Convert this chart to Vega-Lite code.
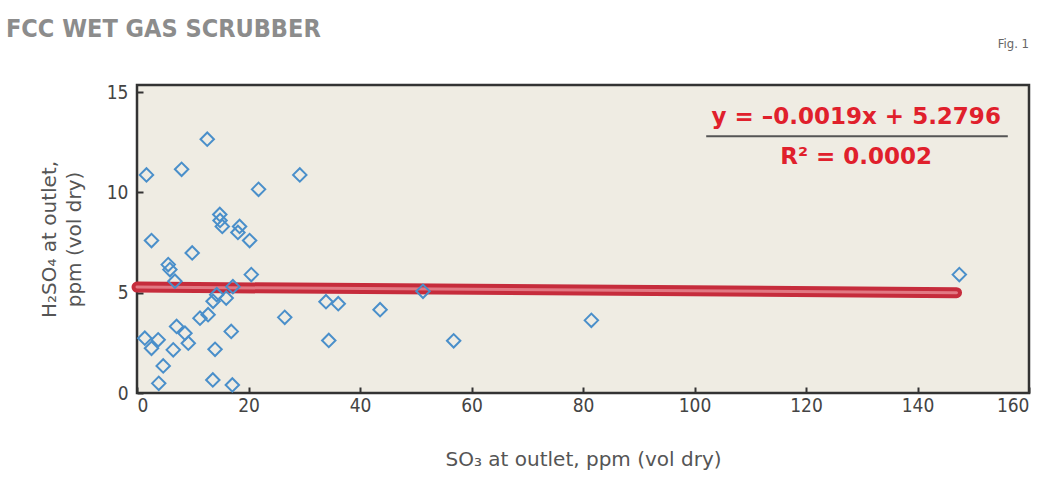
{
  "$schema": "https://vega.github.io/schema/vega-lite/v6.json",
  "width": 892,
  "height": 308,
  "autosize": {"type": "none"},
  "padding": {"left": 137, "top": 85, "right": 21, "bottom": 85},
  "background": "white",
  "title": {
    "text": "FCC WET GAS SCRUBBER",
    "anchor": "start",
    "frame": "group",
    "dx": -131,
    "dy": 6,
    "offset": 2,
    "font": "DejaVu Sans Condensed, Roboto",
    "fontSize": 25,
    "fontWeight": "bold",
    "color": "#8c8c8c"
  },
  "encoding": {
    "x": {
      "field": "so3",
      "type": "quantitative",
      "scale": {"domain": [0, 160], "nice": false},
      "axis": {
        "title": "SO₃ at outlet, ppm (vol dry)",
        "values": [0, 20, 40, 60, 80, 100, 120, 140, 160],
        "labelPadding": 9,
        "titlePadding": 34
      }
    },
    "y": {
      "field": "h2so4",
      "type": "quantitative",
      "scale": {"domain": [0, 15.35], "nice": false},
      "axis": {
        "title": ["H₂SO₄ at outlet,", "ppm (vol dry)"],
        "values": [0, 5, 10, 15],
        "labelPadding": 15,
        "titlePadding": 22,
        "titleLineHeight": 25
      }
    }
  },
  "layer": [
    {
      "data": {"values": [{"so3": 0, "h2so4": 5.2796}, {"so3": 147, "h2so4": 4.9999}]},
      "mark": {"type": "line", "strokeWidth": 11, "color": "#c62c3c", "strokeCap": "round"}
    },
    {
      "data": {"values": [{"so3": 0, "h2so4": 5.2796}, {"so3": 147, "h2so4": 4.9999}]},
      "mark": {"type": "line", "strokeWidth": 3, "color": "#e27883", "strokeCap": "round"}
    },
    {
      "data": {
        "values": [
          {"so3": 12.6, "h2so4": 12.65},
          {"so3": 1.7, "h2so4": 10.87},
          {"so3": 8.0, "h2so4": 11.15},
          {"so3": 29.2, "h2so4": 10.87},
          {"so3": 21.8, "h2so4": 10.15},
          {"so3": 2.6, "h2so4": 7.6},
          {"so3": 9.9, "h2so4": 6.98},
          {"so3": 14.85, "h2so4": 8.9},
          {"so3": 14.9, "h2so4": 8.6},
          {"so3": 15.3, "h2so4": 8.3},
          {"so3": 18.4, "h2so4": 8.3},
          {"so3": 18.1, "h2so4": 8.0},
          {"so3": 20.2, "h2so4": 7.6},
          {"so3": 5.6, "h2so4": 6.4},
          {"so3": 5.9, "h2so4": 6.15},
          {"so3": 6.8, "h2so4": 5.57},
          {"so3": 20.5, "h2so4": 5.9},
          {"so3": 17.2, "h2so4": 5.3},
          {"so3": 14.3, "h2so4": 4.9},
          {"so3": 13.65, "h2so4": 4.57},
          {"so3": 16.0, "h2so4": 4.73},
          {"so3": 11.3, "h2so4": 3.73},
          {"so3": 12.75, "h2so4": 3.9},
          {"so3": 7.1, "h2so4": 3.32},
          {"so3": 8.6, "h2so4": 2.98},
          {"so3": 9.2, "h2so4": 2.48},
          {"so3": 1.4, "h2so4": 2.73},
          {"so3": 3.8, "h2so4": 2.65},
          {"so3": 2.6, "h2so4": 2.23},
          {"so3": 6.5, "h2so4": 2.15},
          {"so3": 14.0, "h2so4": 2.18},
          {"so3": 16.9, "h2so4": 3.07},
          {"so3": 4.7, "h2so4": 1.35},
          {"so3": 3.9, "h2so4": 0.48},
          {"so3": 13.6, "h2so4": 0.65},
          {"so3": 17.1, "h2so4": 0.4},
          {"so3": 26.5, "h2so4": 3.77},
          {"so3": 33.9, "h2so4": 4.55},
          {"so3": 36.1, "h2so4": 4.45},
          {"so3": 34.4, "h2so4": 2.62},
          {"so3": 43.6, "h2so4": 4.15},
          {"so3": 51.3, "h2so4": 5.07},
          {"so3": 56.8, "h2so4": 2.6},
          {"so3": 81.5, "h2so4": 3.62},
          {"so3": 147.5, "h2so4": 5.9}
        ]
      },
      "mark": {"type": "point", "shape": "diamond", "filled": false, "size": 180, "strokeWidth": 2, "color": "#4a8fca", "opacity": 1}
    },
    {
      "data": {
        "values": [
          {"so3": 129, "h2so4": 13.4, "label": "y = –0.0019x + 5.2796"},
          {"so3": 129, "h2so4": 11.4, "label": "R² = 0.0002"}
        ]
      },
      "mark": {"type": "text", "align": "center", "baseline": "alphabetic", "font": "DejaVu Sans", "fontSize": 23, "fontWeight": "bold", "color": "#e0202c"},
      "encoding": {"text": {"field": "label"}}
    },
    {
      "data": {"values": [{"so3": 102.1, "h2so4": 12.8, "so3_end": 156.2}]},
      "mark": {"type": "rule", "color": "#555555", "strokeWidth": 2},
      "encoding": {"x2": {"field": "so3_end"}}
    },
    {
      "data": {"values": [{"so3": 160, "h2so4": 17.4, "label": "Fig. 1"}]},
      "mark": {"type": "text", "align": "right", "baseline": "middle", "font": "DejaVu Sans Condensed, Roboto", "fontSize": 13, "color": "#666666"},
      "encoding": {"text": {"field": "label"}}
    }
  ],
  "config": {
    "view": {"fill": "#efece3", "stroke": "#333333", "strokeWidth": 2.5},
    "axis": {
      "domain": false,
      "grid": false,
      "tickSize": -6,
      "tickWidth": 2,
      "tickColor": "#333333",
      "labelFont": "DejaVu Sans Condensed, Roboto",
      "labelFontSize": 19,
      "labelColor": "#444444",
      "titleFont": "DejaVu Sans, Roboto",
      "titleFontSize": 20,
      "titleFontWeight": "normal",
      "titleColor": "#555555"
    }
  }
}
